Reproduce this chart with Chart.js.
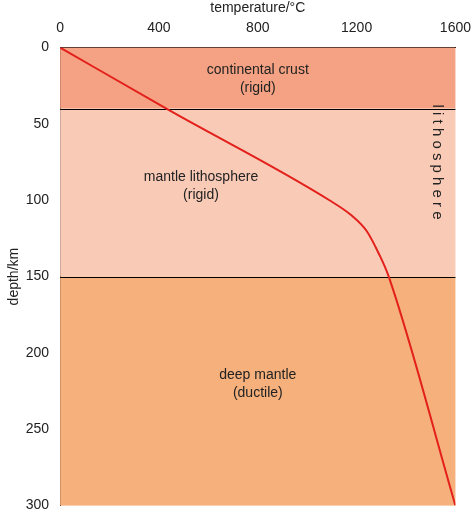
<!DOCTYPE html>
<html><head><meta charset="utf-8">
<script src="https://cdn.jsdelivr.net/npm/chart.js@4"></script>
<style>body{margin:0;background:#fff}#wrap{width:474px;height:517px}</style>
</head><body><div id="wrap"><canvas id="canvas"></canvas></div>
<script>
'use strict';

const temperature = [0, 430, 1090, 1180, 1240, 1290, 1330, 1600];
const depth = [0, 40, 100, 110, 120, 135, 150, 300];
const xTicks = [0, 400, 800, 1200, 1600];
const yTicks = [0, 50, 100, 150, 200, 250, 300];
const layers = [
    { from: 0, to: 40, color: '#f4a283', label: ['continental crust', '(rigid)'], at: 20 },
    { from: 40, to: 150, color: '#f9cab6', label: ['mantle lithosphere', '(rigid)'], at: 90 },
    { from: 150, to: 300, color: '#f5b07c', label: ['deep mantle', '(ductile)'], at: 220 }
];

const bands = {
    id: 'bands',
    beforeDatasetsDraw(chart) {
        const { ctx, chartArea: a, scales } = chart;
        const y = scales.y, x = scales.x;
        ctx.save();
        layers.forEach(l => {
            ctx.fillStyle = l.color;
            ctx.fillRect(a.left, y.getPixelForValue(l.from), a.right - a.left,
                y.getPixelForValue(l.to) - y.getPixelForValue(l.from));
        });
        ctx.strokeStyle = '#000';
        ctx.lineWidth = 1;
        [40, 150].forEach(d => {
            const py = Math.round(y.getPixelForValue(d)) + 0.5;
            ctx.beginPath(); ctx.moveTo(a.left, py); ctx.lineTo(a.right, py); ctx.stroke();
        });
        ctx.fillStyle = '#222';
        ctx.font = '14px "Liberation Sans", Arial, sans-serif';
        ctx.textAlign = 'center';
        layers.forEach((l, i) => {
            const cx = i === 1 ? x.getPixelForValue(570) : x.getPixelForValue(800);
            const cy = y.getPixelForValue(l.at);
            ctx.fillText(l.label[0], cx, cy - 4);
            ctx.fillText(l.label[1], cx, cy + 14);
        });
        ctx.translate(x.getPixelForValue(1530), y.getPixelForValue(75));
        ctx.rotate(Math.PI / 2);
        ctx.font = '15px "Liberation Sans", Arial, sans-serif';
        ctx.fillText('l i t h o s p h e r e', 0, 5);
        ctx.restore();
    }
};

new Chart(document.getElementById('canvas').getContext('2d'), {
    type: 'line',
    data: {
        datasets: [{
            data: temperature.map((t, i) => ({ x: t, y: depth[i] })),
            borderColor: '#e3201b',
            borderWidth: 2,
            pointRadius: 0,
            tension: 0.4,
            cubicInterpolationMode: 'monotone',
            fill: false
        }]
    },
    options: {
        responsive: true,
        maintainAspectRatio: false,
        animation: false,
        layout: { padding: { left: 6, right: 18, bottom: 2 } },
        plugins: { legend: { display: false }, tooltip: { enabled: false } },
        scales: {
            x: {
                type: 'linear', position: 'top', min: 0, max: 1600,
                afterBuildTicks: s => { s.ticks = xTicks.map(v => ({ value: v })); },
                ticks: { color: '#222', font: { size: 14, family: 'Liberation Sans' }, maxRotation: 0, callback: v => String(v) },
                grid: { display: false },
                border: { color: '#000' },
                title: { display: true, text: 'temperature/°C', color: '#222', font: { size: 14, family: 'Liberation Sans' }, padding: 0 }
            },
            y: {
                type: 'linear', reverse: true, min: 0, max: 300,
                afterBuildTicks: s => { s.ticks = yTicks.map(v => ({ value: v })); },
                ticks: { color: '#222', font: { size: 14, family: 'Liberation Sans' }, callback: v => String(v) },
                grid: { display: false },
                border: { color: '#000' },
                title: { display: true, text: 'depth/km', color: '#222', font: { size: 14, family: 'Liberation Sans' }, padding: 0 }
            }
        }
    },
    plugins: [bands]
});
</script></body></html>
